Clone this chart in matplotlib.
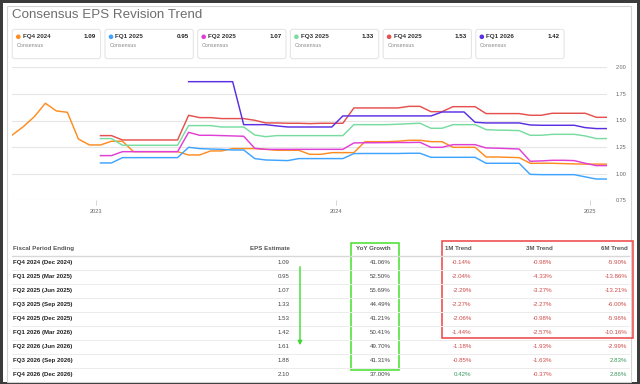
import numpy as np
import matplotlib.pyplot as plt
from matplotlib.patches import Rectangle, FancyBboxPatch, Circle

plt.rcParams['font.family'] = ['Liberation Sans', 'DejaVu Sans']

nan = np.nan

# consensus EPS history per fiscal quarter (evenly spaced snapshots)
fq4_2024 = [1.364, 1.442, 1.536, 1.662, 1.590, 1.577, 1.326, 1.270, 1.270, 1.305, 1.305,
            1.207, 1.207, 1.207, 1.207, 1.207, 1.176, 1.176, 1.214, 1.214, 1.236, 1.236,
            1.236, 1.229, 1.220, 1.220, 1.220, 1.182, 1.182, 1.198, 1.198, 1.198, 1.301,
            1.301, 1.301, 1.305, 1.314, 1.314, 1.301, 1.301, 1.248, 1.248, 1.248, 1.157,
            1.157, 1.154, 1.151, 1.098, 1.098, 1.098, 1.095, 1.092, 1.090, 1.090, 1.090]
fq1_2025 = [nan] * 8 + [1.101, 1.101, 1.151, 1.151, 1.151, 1.151, 1.151, 1.151,
            1.248, 1.236, 1.232, 1.229, 1.223, 1.223, 1.142, 1.129, 1.126, 1.123, 1.142,
            1.142, 1.142, 1.142, 1.142,
            1.189, 1.190, 1.190, 1.190, 1.190, 1.192, 1.192, 1.154, 1.154, 1.154, 1.154,
            1.154, 1.098, 1.098, 1.098, 1.098, 0.994, 0.991, 0.991, 0.991, 0.991, 0.970,
            0.950, 0.950]
fq2_2025 = [nan] * 8 + [1.170, 1.170, 1.207, 1.207, 1.207, 1.207, 1.207, 1.207,
            1.389, 1.361, 1.361, 1.358, 1.355, 1.352, 1.239, 1.229, 1.229, 1.229, 1.229,
            1.229, 1.229, 1.229, 1.229,
            1.289, 1.291, 1.291, 1.292, 1.293, 1.293, 1.295, 1.248, 1.248, 1.273, 1.273,
            1.273, 1.242, 1.240, 1.236, 1.232, 1.117, 1.120, 1.126, 1.126, 1.123, 1.098,
            1.076, 1.076]
fq3_2025 = [nan] * 8 + [1.330, 1.330, 1.267, 1.267, 1.267, 1.267, 1.267, 1.267,
            1.452, 1.452, 1.452, 1.439, 1.439, 1.439, 1.364, 1.348, 1.358, 1.358, 1.358,
            1.358, 1.358, 1.358, 1.358,
            1.461, 1.461, 1.461, 1.461, 1.465, 1.470, 1.474, 1.427, 1.427, 1.461, 1.461,
            1.461, 1.414, 1.410, 1.408, 1.405, 1.361, 1.361, 1.370, 1.370, 1.370, 1.355,
            1.330, 1.330]
fq4_2025 = [nan] * 8 + [1.358, 1.358, 1.317, 1.317, 1.317, 1.317, 1.317, 1.317,
            1.549, 1.527, 1.527, 1.518, 1.518, 1.518, 1.502, 1.477, 1.477, 1.474, 1.474,
            1.471, 1.474, 1.474, 1.474,
            1.618, 1.618, 1.618, 1.618, 1.618, 1.633, 1.633, 1.583, 1.583, 1.630, 1.630,
            1.630, 1.565, 1.565, 1.565, 1.565, 1.549, 1.549, 1.568, 1.568, 1.568, 1.568,
            1.530, 1.530]
fq1_2026 = [nan] * 16 + [1.865, 1.865, 1.865, 1.865, 1.865, 1.461, 1.461, 1.461, 1.449,
            1.439, 1.439, 1.439, 1.439, 1.439, 1.543,
            1.543, 1.543, 1.543, 1.543, 1.543, 1.543, 1.543, 1.543, 1.580, 1.580, 1.580,
            1.483, 1.477, 1.477, 1.477, 1.477, 1.458, 1.455, 1.455, 1.455, 1.455, 1.433,
            1.424, 1.424]

series = [fq4_2024, fq1_2025, fq2_2025, fq3_2025, fq4_2025, fq1_2026]
names = ['FQ4 2024', 'FQ1 2025', 'FQ2 2025', 'FQ3 2025', 'FQ4 2025', 'FQ1 2026']
latest = [1.09, 0.95, 1.07, 1.33, 1.53, 1.42]
colors = ['#ff8c21', '#3fa4ff', '#e03fd6', '#78dca0', '#e4514f', '#5a2fe2']

year_pos = [7.64, 29.34, 52.47]
year_labels = ['2023', '2024', '2025']

# table
periods = ['FQ4 2024 (Dec 2024)', 'FQ1 2025 (Mar 2025)', 'FQ2 2025 (Jun 2025)',
           'FQ3 2025 (Sep 2025)', 'FQ4 2025 (Dec 2025)', 'FQ1 2026 (Mar 2026)',
           'FQ2 2026 (Jun 2026)', 'FQ3 2026 (Sep 2026)', 'FQ4 2026 (Dec 2026)']
eps_est = [1.09, 0.95, 1.07, 1.33, 1.53, 1.42, 1.61, 1.88, 2.10]
yoy = [41.06, 52.50, 55.69, 44.49, 41.21, 50.41, 49.70, 41.31, 37.00]
trend_1m = [-0.14, -2.04, -2.29, -2.27, -2.06, -1.44, -1.18, -0.85, 0.42]
trend_3m = [-0.98, -4.33, -3.27, -2.27, -0.98, -2.57, -1.93, -1.63, -0.37]
trend_6m = [-5.90, -13.86, -13.21, -6.00, -5.96, -10.16, -2.99, 2.83, 2.86]

W, H = 640, 384
fig = plt.figure(figsize=(6.4, 3.84), dpi=100, facecolor='#3b3b3b')
bg = fig.add_axes([0, 0, 1, 1])
bg.set_xlim(0, W)
bg.set_ylim(H, 0)
bg.axis('off')

bg.add_patch(Rectangle((2.7, 2.7), 633.8, 378.8, facecolor='white', edgecolor='none'))
bg.add_patch(Rectangle((6.7, 6), 624.5, 376, facecolor='none', edgecolor='#d3d3d3', lw=0.8))

bg.text(11.7, 18.3, 'Consensus EPS Revision Trend', fontsize=9.6, color='#6e6e6e', va='baseline')

for i in range(6):
    x0 = 12.3 + 92.7 * i
    bg.add_patch(FancyBboxPatch((x0, 29.3), 88.3, 29.4,
                                boxstyle='round,pad=0,rounding_size=2.5',
                                facecolor='white', edgecolor='#e2e2e2', lw=0.7))
    bg.add_patch(Circle((x0 + 6, 36.8), 2.3, color=colors[i], lw=0))
    bg.text(x0 + 10.4, 36.8, names[i], fontsize=4.5, fontweight='bold', color='#333', va='center')
    bg.text(x0 + 83.7, 36.8, f'{latest[i]:.2f}', fontsize=4.5, fontweight='bold', color='#222',
            va='center', ha='right')
    bg.text(x0 + 4.4, 45.3, 'Consensus', fontsize=3.9, color='#8a8a8a', va='center')

# chart
ax = fig.add_axes([12.3 / W, 1 - 200.3 / H, 595 / W, 133 / H])
ax.set_facecolor('none')
x = np.arange(len(fq4_2024))
for s, c in zip(series, colors):
    ax.plot(x, s, color=c, lw=1.05, solid_joinstyle='round')
ax.set_xlim(0, 54)
ax.set_ylim(0.75, 2.0)
ax.set_yticks([0.75, 1.0, 1.25, 1.5, 1.75, 2.0])
ax.set_yticklabels(['0.75', '1.00', '1.25', '1.50', '1.75', '2.00'])
ax.yaxis.tick_right()
ax.tick_params(axis='y', length=0, labelsize=4, labelcolor='#666', pad=6)
ax.set_xticks(year_pos)
ax.set_xticklabels(year_labels)
ax.tick_params(axis='x', length=3.4, width=0.6, color='#cfcfcf', labelsize=4.1,
               labelcolor='#666', pad=3)
ax.grid(axis='y', color='#e6e6e6', lw=0.8)
ax.set_axisbelow(True)
for sp in ax.spines.values():
    sp.set_visible(False)

# table
fs = 4.4
hy = 248.3
head_c = '#555'
bg.text(12.7, hy, 'Fiscal Period Ending', fontsize=fs, fontweight='bold', color=head_c, va='center')
bg.text(289.5, hy, 'EPS Estimate', fontsize=fs, fontweight='bold', color=head_c, va='center', ha='right')
bg.text(390.5, hy, 'YoY Growth', fontsize=fs, fontweight='bold', color=head_c, va='center', ha='right')
bg.text(471.7, hy, '1M Trend', fontsize=fs, fontweight='bold', color=head_c, va='center', ha='right')
bg.text(552.3, hy, '3M Trend', fontsize=fs, fontweight='bold', color=head_c, va='center', ha='right')
bg.text(627.3, hy, '6M Trend', fontsize=fs, fontweight='bold', color=head_c, va='center', ha='right')
bg.plot([12, 629], [255.7, 255.7], color='#d8d8d8', lw=1.0)

red_t, green_t = '#cd4a47', '#3d9a5e'
for k in range(len(periods)):
    y = 262.3 + 14 * k
    bg.text(12.7, y, periods[k], fontsize=fs, fontweight='bold', color='#222', va='center')
    bg.text(289.5, y, f'{eps_est[k]:.2f}', fontsize=fs, color='#444', va='center', ha='right')
    bg.text(390.5, y, f'{yoy[k]:.2f}%', fontsize=fs, color='#444', va='center', ha='right')
    for xr, vals in [(471.7, trend_1m), (552.3, trend_3m), (627.3, trend_6m)]:
        v = vals[k]
        bg.text(xr, y, f'{v:.2f}%', fontsize=fs, color=red_t if v < 0 else green_t,
                va='center', ha='right')
    if k < len(periods) - 1:
        bg.plot([12, 629], [y + 7.4, y + 7.4], color='#ececec', lw=0.7)

bg.add_patch(Rectangle((350.7, 243.3), 48, 126.7, facecolor='none', edgecolor='#44e02a', lw=1.1))
bg.add_patch(Rectangle((441.7, 241), 191, 97.3, facecolor='none', edgecolor='#ee4242', lw=1.1))
bg.annotate('', xy=(300, 348), xytext=(300, 264),
            arrowprops=dict(arrowstyle='-|>', color='#3ada2e', lw=1.0, mutation_scale=6))

fig.savefig('out.png', dpi=100, facecolor=fig.get_facecolor())
